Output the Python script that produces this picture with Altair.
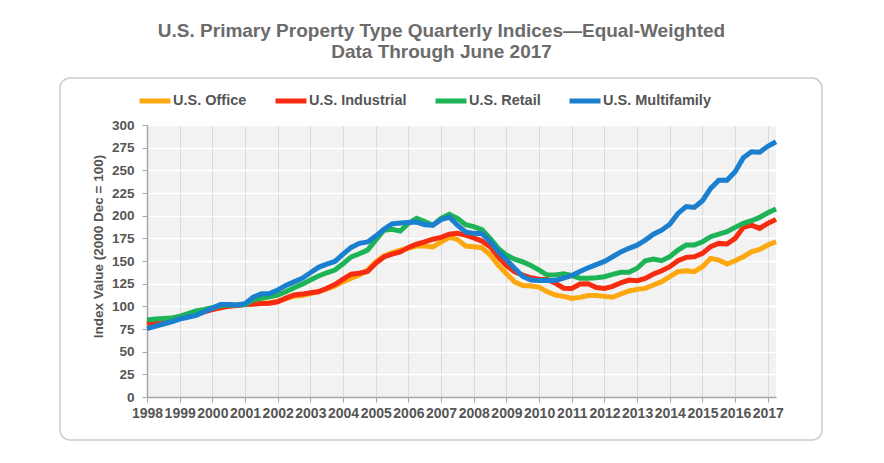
import altair as alt
import pandas as pd

# Quarterly observations, 1998 Q1 through 2017 Q2 (decimal years)
quarters = [1998 + q / 4 for q in range(78)]

office = [
    79, 81.5, 84.5, 86, 87.5, 89, 90.5, 94, 97, 99, 100.5, 101.5,
    102, 102.5, 103.5, 104, 105.5, 108.5, 111, 112, 114, 116.5, 119, 122.5,
    127, 131, 134.5, 140, 149, 155.5, 159, 162, 164, 166.5, 166.5, 165.5,
    171, 176, 173.8, 166.5, 165.7, 164.6, 157, 145.5, 136, 127, 123, 122.5,
    121.2, 116, 112.5, 111, 108.8, 109.9, 112, 112, 111, 110, 113.6, 116.9,
    118.7, 119.8, 123.5, 127.2, 132.7, 138.2, 139.3, 138.2, 143.7, 152.9, 151, 146.6,
    150.3, 154.7, 160.2, 162.8, 167.6, 171.3,
]
industrial = [
    81, 83, 85.5, 86.5, 87.5, 89, 90.5, 94, 96.5, 98.5, 100, 101,
    102, 102.5, 103, 103.5, 105, 109, 112.5, 113.5, 115, 116, 120, 124,
    130, 135.5, 136.5, 138.5, 147.5, 154.5, 157.5, 160, 165, 168.5, 171, 174,
    176, 179.5, 180.5, 178.5, 175.5, 172, 165.7, 154.7, 145, 138, 134.5, 131.5,
    130, 129.5, 125.5, 120, 119.8, 124.6, 125, 120.7, 119.8, 122, 126, 129,
    128.3, 130.8, 135.6, 139.3, 143.7, 150.3, 154, 154.7, 158.4, 165.8, 169.4, 168.7,
    175, 187.1, 189.6, 186, 191.5, 195.9,
]
retail = [
    85, 86, 86.5, 87, 89, 92, 95, 96.5, 98.5, 100.5, 101.5, 101.5,
    102, 107, 109, 110.5, 112.5, 116, 120.5, 124.5, 129, 133.5, 137, 140,
    147, 154.5, 158, 162, 173, 184, 185, 183, 191.5, 197, 193.5, 189.5,
    197, 201.5, 197, 190, 188, 184.5, 175, 164, 156.5, 152, 149, 145,
    140, 134.5, 134.5, 136, 134, 131, 131, 131.5, 132.7, 135.3, 137.5, 137.5,
    142, 150.3, 152.2, 150.3, 154.7, 162, 167.6, 167.6, 171.3, 176.8, 179.7, 182.3,
    187.1, 191.5, 194.4, 198.1, 203.2, 207.3,
]
multifamily = [
    75.5, 78, 80.5, 83, 86, 88, 90, 94, 98, 102, 102, 101.5,
    103, 110, 114, 114, 118, 123, 127, 131, 137, 143, 146.5, 149.5,
    157.5, 165, 169.5, 171, 177.5, 185, 191, 192, 192.5, 193, 190, 189.5,
    195.5, 198.5, 189.5, 182, 180.5, 180, 171.5, 160.5, 151.5, 142, 133, 129,
    128.5, 128.5, 128.5, 131, 134, 138.5, 142.5, 146, 149.5, 154.7, 160, 164,
    167.5, 173, 179.5, 184, 190.5, 202.5, 210, 209, 216.5, 230, 239, 239,
    248.5, 264, 270.5, 270, 276.5, 281.5,
]

series_names = ["U.S. Office", "U.S. Industrial", "U.S. Retail", "U.S. Multifamily"]
series_colors = ["#FDA80F", "#F62B10", "#1DB356", "#1B7FCF"]
year_ticks = list(range(1998, 2018))
value_ticks = list(range(0, 301, 25))

title_lines = [
    "U.S. Primary Property Type Quarterly Indices\u2014Equal-Weighted",
    "Data Through June 2017",
]
y_title = "Index Value (2000 Dec = 100)"

rows = []
for name, vals in zip(series_names, [office, industrial, retail, multifamily]):
    for t, v in zip(quarters, vals):
        rows.append({"t": t, "value": v, "series": name})
df = pd.DataFrame(rows)

FONT = "Liberation Sans"
LABEL = "#555555"
AXIS_LINE = "#a6a6a6"

x_enc = alt.X(
    "t:Q",
    scale=alt.Scale(domain=[1998, 2017.25], nice=False, zero=False),
    axis=alt.Axis(
        values=year_ticks, format="d", title=None,
        labelFont=FONT, labelFontSize=14, labelFontWeight="bold", labelColor=LABEL,
        labelPadding=4, labelFlush=False, labelOverlap=False,
        tickSize=5, tickColor=AXIS_LINE, domainColor=AXIS_LINE, domainWidth=1.5,
        grid=True, gridColor="#d9d9d9", gridWidth=1,
    ),
)
y_enc = alt.Y(
    "value:Q",
    scale=alt.Scale(domain=[0, 300], nice=False),
    axis=alt.Axis(
        values=value_ticks, title=y_title,
        titleFont=FONT, titleFontSize=13.5, titleFontWeight="bold", titleColor=LABEL,
        titleAngle=270, titleX=-49, titleY=121, titleAlign="center", titleBaseline="middle",
        labelFont=FONT, labelFontSize=13.5, labelFontWeight="bold", labelColor=LABEL,
        labelPadding=8,
        tickSize=5, tickColor=AXIS_LINE, domainColor=AXIS_LINE, domainWidth=1.5,
        grid=True, gridColor="#ffffff", gridWidth=1.5,
    ),
)
color_enc = alt.Color(
    "series:N",
    scale=alt.Scale(domain=series_names, range=series_colors),
    legend=alt.Legend(
        title=None, orient="none", legendX=-10, legendY=-42, direction="horizontal",
        columns=4, columnPadding=18, symbolType="stroke", symbolSize=961,
        symbolStrokeWidth=5, labelOffset=0, labelFont=FONT, labelFontSize=14.5,
        labelFontWeight="bold", labelColor=LABEL, labelLimit=300,
    ),
)

# One layer per series so the multifamily line is painted last (on top)
lines = [
    alt.Chart(df)
    .transform_filter(alt.datum.series == name)
    .mark_line(strokeWidth=5)
    .encode(x=x_enc, y=y_enc, color=color_enc)
    for name in series_names
]

# Rounded frame around legend, axes and plot
frame = alt.Chart(alt.Data(values=[{}])).mark_rect(
    fillOpacity=0, stroke="#cccccc", strokeWidth=1.5, cornerRadius=10
).encode(
    x=alt.value(-87), x2=alt.value(675), y=alt.value(-47), y2=alt.value(315)
)

chart = (
    alt.layer(frame, *lines)
    .properties(
        width=629,
        height=272,
        title=alt.TitleParams(
            text=title_lines, font=FONT, fontSize=19, fontWeight="bold",
            color="#6b6b6b", anchor="middle", dx=-20, offset=15, lineHeight=21,
        ),
        autosize=alt.AutoSizeParams(type="none"),
        padding={"left": 147, "top": 125, "right": 108, "bottom": 66},
        background="#ffffff",
    )
    .configure_view(fill="#f2f2f2", stroke=None)
)

chart.save("out.html", embed_options={"renderer": "svg", "actions": False})
